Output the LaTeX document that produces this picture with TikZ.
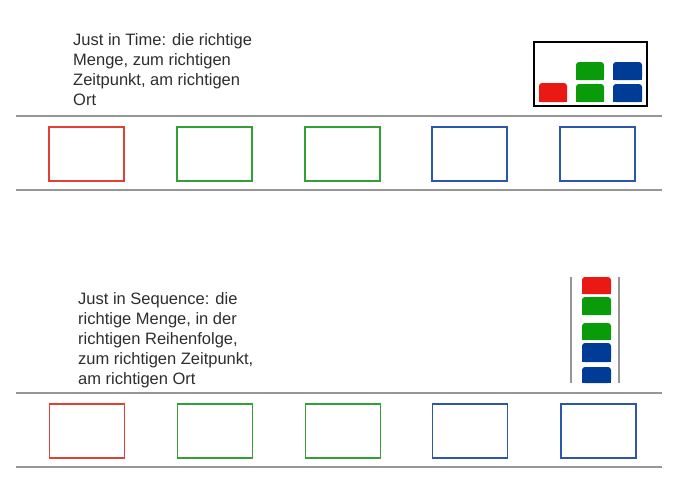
\documentclass[tikz,border=0pt]{standalone}
\usepackage{fontspec}
\setmainfont{Liberation Sans}
\usetikzlibrary{positioning}

\definecolor{railgray}{RGB}{150,150,150}
\definecolor{textgray}{RGB}{45,45,45}
\definecolor{slotred}{RGB}{225,65,50}
\definecolor{slotgreen}{RGB}{50,160,50}
\definecolor{slotblue}{RGB}{45,85,170}
\definecolor{partred}{RGB}{235,25,20}
\definecolor{partgreen}{RGB}{10,155,10}
\definecolor{partblue}{RGB}{0,60,150}

\begin{document}
\begin{tikzpicture}[x=1pt,y=1pt,yscale=-1,
  slot/.style={draw, line width=1.4pt, minimum width=75pt, minimum height=54pt, inner sep=0pt},
  rail/.style={draw=railgray, line width=1.6pt},
  caption/.style={align=left, anchor=north west, inner sep=0pt, text=textgray, font=\fontsize{16.5}{20}\selectfont}]

\useasboundingbox (0,0) rectangle (675,483);

\coordinate (tl1) at (16,116);
\coordinate (tr1) at (662,116);
\coordinate (tl2) at (16,190);
\coordinate (tr2) at (662,190);
\coordinate (bl1) at (16,393);
\coordinate (br1) at (662,393);
\coordinate (bl2) at (16,467);
\coordinate (br2) at (662,467);

% Rails
\draw   [rail] (tl1) -- (tr1) ;
\draw   [rail] (tl2) -- (tr2) ;
\draw   [rail] (bl1) -- (br1) ;
\draw   [rail] (bl2) -- (br2) ;

% Just in Time
\node   [caption] (jit) at (73,33) {Just in Time: die richtige\\Menge, zum richtigen\\Zeitpunkt, am richtigen\\Ort};

\node   [slot, draw=slotred]   (t1) at (86.5,154) {};
\node   [slot, draw=slotgreen] (t2) at (214.5,154) {};
\node   [slot, draw=slotgreen] (t3) at (342.5,154) {};
\node   [slot, draw=slotblue]  (t4) at (469.5,154) {};
\node   [slot, draw=slotblue]  (t5) at (597.5,154) {};

% Parts in the box
\draw   [line width=1.6pt] (534,42) rectangle (647,106) ;
\fill   [partred, rounded corners=3pt]   (539,83) rectangle (567,102) ;
\fill   [partred]                        (539,93) rectangle (567,102) ;
\fill   [partgreen, rounded corners=3pt] (576,62) rectangle (604,80) ;
\fill   [partgreen]                      (576,71) rectangle (604,80) ;
\fill   [partgreen, rounded corners=3pt] (576,84) rectangle (604,102) ;
\fill   [partgreen]                      (576,93) rectangle (604,102) ;
\fill   [partblue, rounded corners=3pt]  (613,62) rectangle (642,80) ;
\fill   [partblue]                       (613,71) rectangle (642,80) ;
\fill   [partblue, rounded corners=3pt]  (613,84) rectangle (642,102) ;
\fill   [partblue]                       (613,93) rectangle (642,102) ;

% Just in Sequence
\node   [caption] (jis) at (78,292) {Just in Sequence:  die\\richtige Menge,  in der\\richtigen Reihenfolge,\\zum richtigen Zeitpunkt,\\am richtigen Ort};

\node   [slot, draw=slotred]   (b1) at (87,431) {};
\node   [slot, draw=slotgreen] (b2) at (215,431) {};
\node   [slot, draw=slotgreen] (b3) at (343,431) {};
\node   [slot, draw=slotblue]  (b4) at (470,431) {};
\node   [slot, draw=slotblue]  (b5) at (598.5,431) {};

% Parts in the stack
\draw   [rail, line width=1.4pt] (571,277) -- (571,383) ;
\draw   [rail, line width=1.4pt] (619,277) -- (619,383) ;
\fill   [partred, rounded corners=3pt]   (582,277) rectangle (611,294) ;
\fill   [partred]                        (582,286) rectangle (611,294) ;
\fill   [partgreen, rounded corners=3pt] (582,297) rectangle (611,315) ;
\fill   [partgreen]                      (582,306) rectangle (611,315) ;
\fill   [partgreen, rounded corners=3pt] (582,323) rectangle (611,340) ;
\fill   [partgreen]                      (582,332) rectangle (611,340) ;
\fill   [partblue, rounded corners=3pt]  (582,343) rectangle (611,362) ;
\fill   [partblue]                       (582,352) rectangle (611,362) ;
\fill   [partblue, rounded corners=3pt]  (582,367) rectangle (611,383) ;
\fill   [partblue]                       (582,375) rectangle (611,383) ;

\end{tikzpicture}
\end{document}
